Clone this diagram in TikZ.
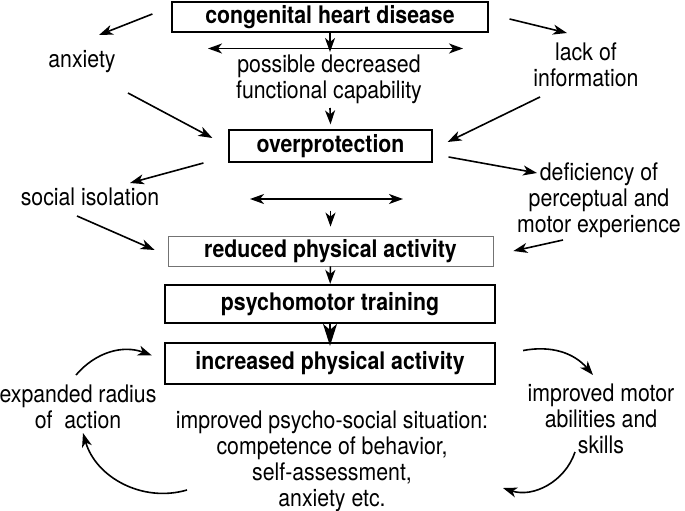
\documentclass[tikz,border=0pt]{standalone}
\usepackage{fontspec}
\setmainfont[FakeStretch=0.88]{TeX Gyre Heros}
\usepackage{tikz}
\usetikzlibrary{arrows.meta, positioning}
\tikzset{>={Stealth[length=14pt,width=10pt,inset=4pt]}}
\tikzset{
  mainbox/.style={draw, line width=1.2pt, inner sep=0pt, font=\fontsize{24.2}{26}\selectfont\bfseries},
  thinbox/.style={draw=black!55, line width=0.8pt, inner sep=0pt, font=\fontsize{24.2}{26}\selectfont\bfseries},
  thickbox/.style={draw, line width=2.2pt, inner sep=0pt, font=\fontsize{24.2}{26}\selectfont\bfseries},
  lbl/.style={align=center, inner sep=0pt}
}

\begin{document}
\begin{tikzpicture}[x=1pt, y=-1pt, line width=1.6pt, font=\fontsize{24.2}{26}\selectfont]
		\useasboundingbox (0,0) rectangle (685,511);

		\node [mainbox, minimum width=316pt, minimum height=30pt] (chd) at (330,17) {congenital heart disease};
		\node [lbl] (poss) at (329,79) {possible decreased\\functional capability};
		\node [mainbox, minimum width=203pt, minimum height=32pt] (over) at (330.5,146) {overprotection};
		\node [lbl] (anx) at (82,62) {anxiety};
		\node [lbl] (lack) at (586,65) {lack of\\information};
		\node [lbl] (soc) at (90,197) {social isolation};
		\node [lbl] (def) at (599,200) {deficiency of\\perceptual and\\motor experience};
		\node [thinbox, minimum width=325pt, minimum height=30pt] (red) at (330.5,251) {reduced physical activity};
		\node [thickbox, minimum width=330pt, minimum height=38pt] (pmt) at (330,304) {psychomotor training};
		\node [thickbox, minimum width=330pt, minimum height=41pt] (inc) at (330,363.5) {increased physical activity};
		\node [lbl] (exp) at (78,407) {expanded radius\\of~\ action};
		\node [lbl] (mot) at (601,419) {improved motor\\abilities and\\skills};
		\node [lbl] (psy) at (332,461) {improved psycho-social situation:\\competence of behavior,\\self-assessment,\\anxiety etc.};

		\coordinate (dl1) at (208,48.5);
		\coordinate (dr1) at (463,48.5);
		\coordinate (dl2) at (250,199);
		\coordinate (dr2) at (403,199);

		\draw[->] ([shift={(-19,-3)}]chd.west) to ([shift={(17,-27)}]anx.center);
		\draw[->] ([shift={(21,2)}]chd.east) to ([shift={(-19,-32)}]lack.center);
		\draw[->] (chd.south) to ([shift={(1,-27)}]poss.center);
		\draw[<->] (dl1) to (dr1);
		\draw[->] ([shift={(1,29)}]poss.center) to ([shift={(0,-5)}]over.north);
		\draw[->] ([shift={(46,31)}]anx.center) to ([shift={(-16,-8)}]over.west);
		\draw[->] ([shift={(-46,32)}]lack.center) to ([shift={(15,-4)}]over.east);
		\draw[->] ([shift={(-25,17)}]over.west) to ([shift={(40,-14)}]soc.center);
		\draw[->] ([shift={(16,11)}]over.east) to ([shift={(-62,-27)}]def.center);
		\draw[<->] (dl2) to (dr2);
		\draw[->] ([shift={(0,48)}]over.south) to ([shift={(0,-9)}]red.north);
		\draw[->] ([shift={(-13,19)}]soc.center) to ([shift={(-13,-1)}]red.west);
		\draw[->] ([shift={(-36,40)}]def.center) to ([shift={(20,0)}]red.east);
		\draw[->] (red) to (pmt);
		\draw[-{Stealth[length=22pt,width=14pt,inset=6pt]}, shorten >=-4pt] (pmt) to (inc);

		\draw[->] ([shift={(-2,-32)}]exp.center) to [bend left=35] ([shift={(-12,-8)}]inc.west);
		\draw[->] ([shift={(27,-13)}]inc.east) to [bend left=30] ([shift={(-8,-44)}]mot.center);
		\draw[->] ([shift={(-26,33)}]mot.center) to [bend left=45] ([shift={(171,27)}]psy.center);
		\draw[->] ([shift={(-145,29)}]psy.center) to [bend left=45] ([shift={(5,26)}]exp.center);
		\end{tikzpicture}
\end{document}
